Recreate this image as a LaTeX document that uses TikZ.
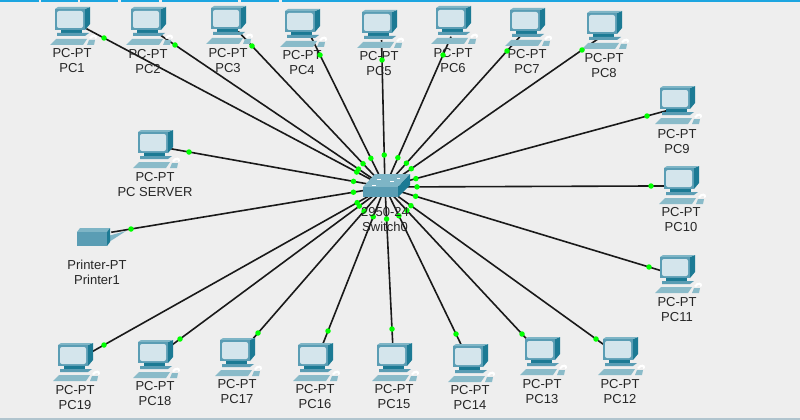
\documentclass[tikz,border=0pt]{standalone}
\usepackage{fontspec}
\setmainfont{Liberation Sans}
\usepackage{xcolor}
\definecolor{canvas}{RGB}{238, 238, 238}
\definecolor{tabblue}{RGB}{28, 165, 224}
\definecolor{tabline}{RGB}{176, 196, 206}
\definecolor{front}{RGB}{90, 157, 180}
\definecolor{topface}{RGB}{126, 181, 198}
\definecolor{sideface}{RGB}{28, 122, 148}
\definecolor{screen}{RGB}{212, 229, 236}
\definecolor{keys}{RGB}{138, 187, 201}
\definecolor{port}{RGB}{0, 255, 0}
\usepackage{tikz}
\usetikzlibrary{positioning,calc,backgrounds}

\begin{document}
\begin{tikzpicture}[
  x=1pt, y=-1pt,
  link/.style={line width=1.6pt, color=black!90},
  dot/.style={circle, fill=port, inner sep=0pt, minimum size=5.5pt},
  lbl/.style={font=\fontsize{13}{15}\selectfont, align=center, text=black!85, inner sep=0pt},
  holder/.style={inner sep=0pt, minimum width=46pt, minimum height=40pt},
  pics/pcicon/.style={code={
    \fill[white] (17,12) .. controls (20,7) and (26,8) .. (25,12) -- (23,13) .. controls (24,10) and (21,10) .. (19,13) -- cycle;
    \fill[keys] (-16,13) -- (15,13) -- (11,19) -- (-22,19) -- cycle;
    \fill[keys] (17,14) -- (23,14) -- (22,19) -- (15,19) -- cycle;
    \fill[sideface] (-11,4) -- (10,4) -- (10,8) -- (-11,8) -- cycle;
    \fill[front] (-15,7) -- (17,7) -- (13,10) -- (-15,10) -- cycle;
    \fill[sideface] (13,-17) -- (18,-19) -- (18,-2) -- (13,4) -- cycle;
    \fill[topface] (-14,-19) -- (18,-19) -- (13,-17) -- (-17,-17) -- cycle;
    \fill[front] (-17,-17) rectangle (13,4);
    \fill[screen, rounded corners=2pt] (-15,-15) rectangle (11,2);
  }},
  pics/swicon/.style={code={
    \fill[topface] (-22,0) -- (-10,-13) -- (25,-13) -- (13,0) -- cycle;
    \fill[front] (-22,0) -- (13,0) -- (13,10) -- (-22,10) -- cycle;
    \fill[sideface] (13,0) -- (25,-13) -- (25,-2) -- (13,10) -- cycle;
    \draw[white, line width=0.8pt] (-13,-2) -- (-9,-2) (-8,-8) -- (-4,-8) (5,-6) -- (9,-6) (12,-9) -- (15,-9);
  }},
  pics/pricon/.style={code={
    \fill[topface] (15,-1) -- (33,-6) -- (16,5) -- cycle;
    \fill[topface] (-13,-9) -- (17,-9) -- (14,-5) -- (-16,-5) -- cycle;
    \fill[front] (-16,-5) rectangle (14,9);
    \fill[sideface] (14,-5) -- (17,-9) -- (17,5) -- (14,9) -- cycle;
  }}
]
\useasboundingbox (0,0) rectangle (800,420);
\begin{pgfonlayer}{background}
\fill[canvas] (0,0) rectangle (800,420);
\fill[tabline] (0,418) rectangle (800,420);
\foreach \xa/\xb in {0/39, 41/78, 80/118, 121/159, 162/238, 241/279, 282/800}
  \fill[tabblue] (\xa,0) rectangle (\xb,2);
\end{pgfonlayer}

\node[inner sep=0pt, minimum width=48pt, minimum height=24pt] (sw) at (385,187) {};
\pic at (sw.center) {swicon};
\node[lbl] (swlabel) at (385,220) {2950-24\\Switch0};

\foreach \nm/\lab/\ix/\iy/\lx/\ly/\dx/\dy in {
  1/PC1/72/26/72/61/104/38, 2/PC2/148/26/148/62/175/45, 3/PC3/228/25/228/61/252/46,
  4/PC4/302/28/302/63/320/55, 5/PC5/379/29/379/64/382/60, 6/PC6/453/25/453/61/443/55,
  7/PC7/527/27/527/62/507/51, 8/PC8/604/30/604/66/582/50, 9/PC9/677/105/677/142/647/116,
  10/PC10/681/185/681/220/651/186, 11/PC11/677/274/677/310/649/267, 12/PC12/620/356/620/392/596/339,
  13/PC13/542/356/542/392/522/334, 14/PC14/470/363/470/398/456/334, 15/PC15/394/362/394/397/392/329,
  16/PC16/315/362/315/397/328/331, 17/PC17/237/357/237/392/258/333, 18/PC18/155/359/155/394/180/339,
  19/PC19/75/362/75/398/104/345, 20/{PC SERVER}/155/149/155/185/189/152} {
  \node[holder] (pc\nm) at (\ix,\iy) {};
  \pic at (pc\nm.center) {pcicon};
  \node[lbl] (lab\nm) at (\lx,\ly) {PC-PT\\\lab};
  \node[dot] (dn\nm) at (\dx,\dy) {};
  \coordinate (end\nm) at ($(dn\nm.center)!-20pt!(sw.center)$);
  \begin{pgfonlayer}{background}
    \draw[link] (sw.center) -- (end\nm);
    \node[dot] (ds\nm) at ($(sw.center)!32pt!(dn\nm.center)$) {};
  \end{pgfonlayer}
}

\node[holder, minimum width=34pt, minimum height=20pt] (printer) at (93,237) {};
\pic at (printer.center) {pricon};
\node[lbl] (printerlabel) at (97,272) {Printer-PT\\Printer1};
\node[dot] (dnp) at (131,229) {};
\coordinate (endp) at ($(dnp.center)!-20pt!(sw.center)$);
\begin{pgfonlayer}{background}
  \draw[link] (sw.center) -- (endp);
  \node[dot] (dsp) at ($(sw.center)!32pt!(dnp.center)$) {};
\end{pgfonlayer}
\end{tikzpicture}
\end{document}
